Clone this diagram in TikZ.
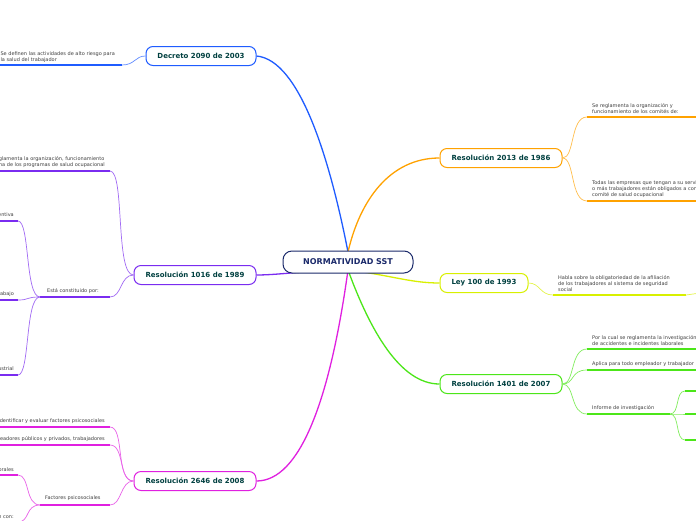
\documentclass[tikz,border=0pt]{standalone}
\usepackage{fontspec}
\setmainfont{DejaVu Sans}
\begin{document}
\begin{tikzpicture}[x=1pt,y=-1pt,
  topic/.style={draw=#1,line width=1pt,rounded corners=7pt,fill=white,minimum height=19pt,font=\fontsize{7}{8}\selectfont\bfseries,text=teal!50!black},
  leaf/.style={font=\fontsize{5}{6.2}\selectfont,text=black!75,align=left,inner sep=1pt},
  ul/.style={draw=#1,line width=1.6pt},
  con/.style={draw=#1!70,line width=0.7pt},
]
\definecolor{cblue}{HTML}{1F5CFF}
\definecolor{corange}{HTML}{FFA200}
\definecolor{cyel}{HTML}{D8F000}
\definecolor{cgreen}{HTML}{4CE619}
\definecolor{cpurp}{HTML}{7A2CF0}
\definecolor{cmag}{HTML}{E020E0}
\definecolor{cnavy}{HTML}{1B2A6B}
\useasboundingbox (0,0) rectangle (696,520);
\clip (0,0) rectangle (696,520);
\fill[white] (0,0) rectangle (696,520);

% central connectors
\coordinate (cu) at (348,252);
\coordinate (cl) at (348,270);
\node[topic=cblue,minimum width=110pt] (dec) at (201,56) {Decreto 2090 de 2003};
\node[topic=corange,minimum width=122pt] (r2013) at (501,158) {Resolución 2013 de 1986};
\node[topic=cyel,minimum width=88pt] (ley) at (484,283) {Ley 100 de 1993};
\node[topic=cgreen,minimum width=122pt] (r1401) at (501,384) {Resolución 1401 de 2007};
\node[topic=cpurp,minimum width=122pt] (r1016) at (195,275) {Resolución 1016 de 1989};
\node[topic=cmag,minimum width=122pt] (r2646) at (195,481) {Resolución 2646 de 2008};

\draw[cblue,line width=1.3pt] (cu) .. controls (330,160) and (300,60) .. (dec.east);
\draw[corange,line width=1.3pt] (cu) .. controls (360,200) and (390,158) .. (r2013.west);
\draw[cyel,line width=1.3pt] (cl) .. controls (390,275) and (410,283) .. (ley.west);
\draw[cgreen,line width=1.3pt] (cl) .. controls (370,330) and (400,384) .. (r1401.west);
\draw[cpurp,line width=1.3pt] (cl) .. controls (310,270) and (280,275) .. (r1016.east);
\draw[cmag,line width=1.3pt] (cl) .. controls (330,400) and (300,481) .. (r2646.east);

\node[draw=cnavy,line width=1pt,rounded corners=9pt,fill=white,minimum width=130pt,minimum height=22pt,font=\fontsize{8}{9}\selectfont\bfseries,text=cnavy] (c) at (348,262) {NORMATIVIDAD SST};

% Decreto leaf
\coordinate (d1a) at (-60,65); \coordinate (d1b) at (122,65);
\draw[ul=cblue] (d1a)--(d1b);
\draw[con=cblue] (d1b) .. controls (135,65) and (135,56) .. (dec.west);
\node[leaf,anchor=south east] (d1t) at (116,64) {Se definen las actividades de alto riesgo para\\la salud del trabajador};

% 2013 leaves
\coordinate (o1a) at (587,117); \coordinate (o1b) at (720,117);
\draw[ul=corange] (o1a)--(o1b);
\node[leaf,anchor=south west] (o1t) at (591,115) {Se reglamenta la organización y\\funcionamiento de los comités de:};
\coordinate (o2a) at (587,201); \coordinate (o2b) at (720,201);
\draw[ul=corange] (o2a)--(o2b);
\node[leaf,anchor=south west] (o2t) at (591,199) {Todas las empresas que tengan a su servicio diez\\o más trabajadores están obligados a conformar un\\comité de salud ocupacional};
\draw[con=corange] (r2013.east) .. controls (575,158) and (570,117) .. (o1a);
\draw[con=corange] (r2013.east) .. controls (575,158) and (570,201) .. (o2a);

% Ley 100 leaf
\coordinate (y1a) at (553,295); \coordinate (y1b) at (686,295); \coordinate (y1c) at (700,293);
\draw[ul=cyel] (y1a)--(y1b);
\draw[con=cyel] (y1b)--(y1c);
\draw[con=cyel] (ley.east) .. controls (540,283) and (540,295) .. (y1a);
\node[leaf,anchor=south west] (y1t) at (557,293) {Habla sobre la obligatoriedad de la afiliación\\de los trabajadores al sistema de seguridad\\social};

% 1401 leaves
\coordinate (g1a) at (587,349); \coordinate (g1b) at (720,349);
\draw[ul=cgreen] (g1a)--(g1b);
\node[leaf,anchor=south west] (g1t) at (591,347) {Por la cual se reglamenta la investigación\\de accidentes e incidentes laborales};
\coordinate (g2a) at (587,370); \coordinate (g2b) at (720,370);
\draw[ul=cgreen] (g2a)--(g2b);
\node[leaf,anchor=south west] (g2t) at (591,368) {Aplica para todo empleador y trabajador};
\coordinate (g3a) at (587,414); \coordinate (g3b) at (670,414);
\draw[ul=cgreen] (g3a)--(g3b);
\node[leaf,anchor=south west] (g3t) at (591,412) {Informe de investigación};
\draw[con=cgreen] (r1401.east) .. controls (575,384) and (570,349) .. (g1a);
\draw[con=cgreen] (r1401.east) .. controls (575,384) and (570,370) .. (g2a);
\draw[con=cgreen] (r1401.east) .. controls (575,384) and (570,414) .. (g3a);
\foreach \n/\y/\t in {s1/391/Datos generales, s2/414/Descripción del\\ accidente, s3/440/Investigación\\ del evento}{
  \coordinate (\n a) at (685,\y); \coordinate (\n b) at (720,\y);
  \draw[ul=cgreen] (\n a)--(\n b);
  \draw[con=cgreen] (g3b) .. controls (680,414) and (675,\y) .. (\n a);
}
\node[leaf,anchor=south west] at (695,389) {Datos};
\node[leaf,anchor=south west] at (695,412) {Descripción\\del};
\node[leaf,anchor=south west] at (695,438) {Investigación\\del};

% 1016 leaves
\coordinate (p1a) at (-60,171); \coordinate (p1b) at (110,171);
\draw[ul=cpurp] (p1a)--(p1b);
\node[leaf,anchor=south east] (p1t) at (106,169) {Se reglamenta la organización, funcionamiento\\y forma de los programas de salud ocupacional};
\draw[con=cpurp] (p1b) .. controls (125,171) and (115,275) .. (r1016.west);
\coordinate (p2a) at (40,297); \coordinate (p2b) at (110,297);
\draw[ul=cpurp] (p2a)--(p2b);
\node[leaf,anchor=south west] (p2t) at (46,295) {Está constituido por:};
\draw[con=cpurp] (p2b) .. controls (122,297) and (120,275) .. (r1016.west);
\foreach \n/\y/\t in {q1/221/Subprograma de medicina preventiva, q2/300/Subprograma de medicina del trabajo, q3/375/Subprograma de higiene y seguridad industrial}{
  \coordinate (\n a) at (-60,\y); \coordinate (\n b) at (18,\y);
  \draw[ul=cpurp] (\n a)--(\n b);
  \draw[con=cpurp] (\n b) .. controls (30,\y) and (25,297) .. (p2a);
  \node[leaf,anchor=south east] at (15,\y-2) {\t};
}

% 2646 leaves
\coordinate (m1a) at (-60,427); \coordinate (m1b) at (110,427);
\draw[ul=cmag] (m1a)--(m1b);
\node[leaf,anchor=south east] at (106,425) {Identificar y evaluar factores psicosociales};
\coordinate (m2a) at (-60,445); \coordinate (m2b) at (110,445);
\draw[ul=cmag] (m2a)--(m2b);
\node[leaf,anchor=south east] at (106,443) {Empleadores públicos y privados, trabajadores};
\coordinate (m3a) at (40,505); \coordinate (m3b) at (110,505);
\draw[ul=cmag] (m3a)--(m3b);
\node[leaf,anchor=south west] at (44,502) {Factores psicosociales};
\draw[con=cmag] (m1b) .. controls (125,427) and (115,481) .. (r2646.west);
\draw[con=cmag] (m2b) .. controls (125,445) and (118,481) .. (r2646.west);
\draw[con=cmag] (m3b) .. controls (122,505) and (120,481) .. (r2646.west);
\foreach \n/\y/\t in {k1/475/Factores intralaborales, k2/522/Se relacionan con:}{
  \coordinate (\n a) at (-60,\y); \coordinate (\n b) at (18,\y);
  \draw[ul=cmag] (\n a)--(\n b);
  \draw[con=cmag] (\n b) .. controls (30,\y) and (25,505) .. (m3a);
  \node[leaf,anchor=south east] at (15,\y-2) {\t};
}
\end{tikzpicture}
\end{document}
